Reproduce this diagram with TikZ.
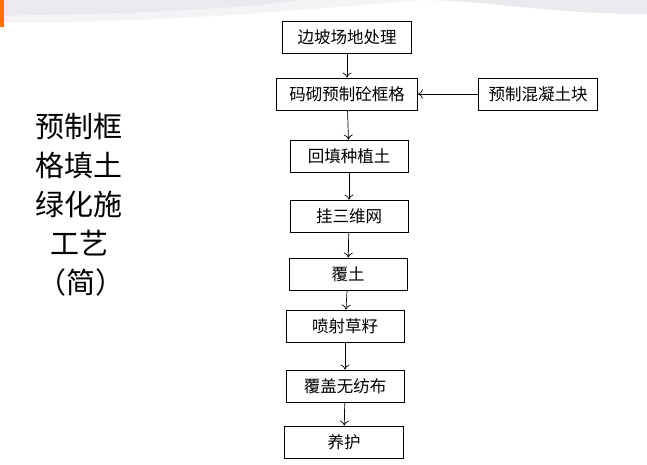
\documentclass[tikz,border=0pt]{standalone}
\usepackage{fontspec}
\usetikzlibrary{arrows.meta}
\newfontfamily\cjk{Noto Sans CJK SC}
\begin{document}
\begin{tikzpicture}[x=1pt,y=-1pt,
  box/.style={draw,line width=0.8pt,minimum width=118pt,minimum height=32pt,inner sep=0pt,font=\cjk\fontsize{16.5}{16.5}\selectfont},
  arr/.style={draw,line width=0.7pt,-{To[length=5pt,width=9pt]}}]
\useasboundingbox (0,0) rectangle (647,464);
\fill[white] (0,0) rectangle (647,464);
\fill[blue!10!gray!15] (0,0) -- (647,0) -- (647,14) .. controls (540,14) and (480,-2) .. (400,0) -- cycle;
\fill[blue!10!gray!15] (0,0) -- (0,16) .. controls (150,14) and (250,8) .. (300,0) -- cycle;
\fill[blue!8!gray!8] (0,16) .. controls (150,14) and (250,8) .. (300,0) -- (420,0) .. controls (300,10) and (150,24) .. (0,22) -- cycle;
\fill[orange!90!red] (0,0) rectangle (4,27);
\node[box,minimum width=129pt] (a) at (347,37) {边坡场地处理};
\node[box,minimum width=141pt] (b) at (347,94) {码砌预制砼框格};
\node[box,minimum width=119pt] (c) at (538,94) {预制混凝土块};
\node[box] (d) at (349,156) {回填种植土};
\node[box] (e) at (349,216) {挂三维网};
\node[box] (f) at (348,274) {覆土};
\node[box] (g) at (345,326) {喷射草籽};
\node[box] (h) at (345,386) {覆盖无纺布};
\node[box,minimum width=119pt] (i) at (344,442) {养护};
\draw[arr] (a) -- (b);
\draw[arr] (c) -- (b);
\draw[arr] (b) -- (d);
\draw[arr] (d) -- (e);
\draw[arr] (e) -- (f);
\draw[arr] (f) -- (g);
\draw[arr] (g) -- (h);
\draw[arr] (h) -- (i);
\node[font=\cjk\fontsize{29}{39}\selectfont,align=center,anchor=north] (t) at (79,110) {预制框\\格填土\\绿化施\\工艺\\\hspace*{4pt}（简）};
\end{tikzpicture}
\end{document}
